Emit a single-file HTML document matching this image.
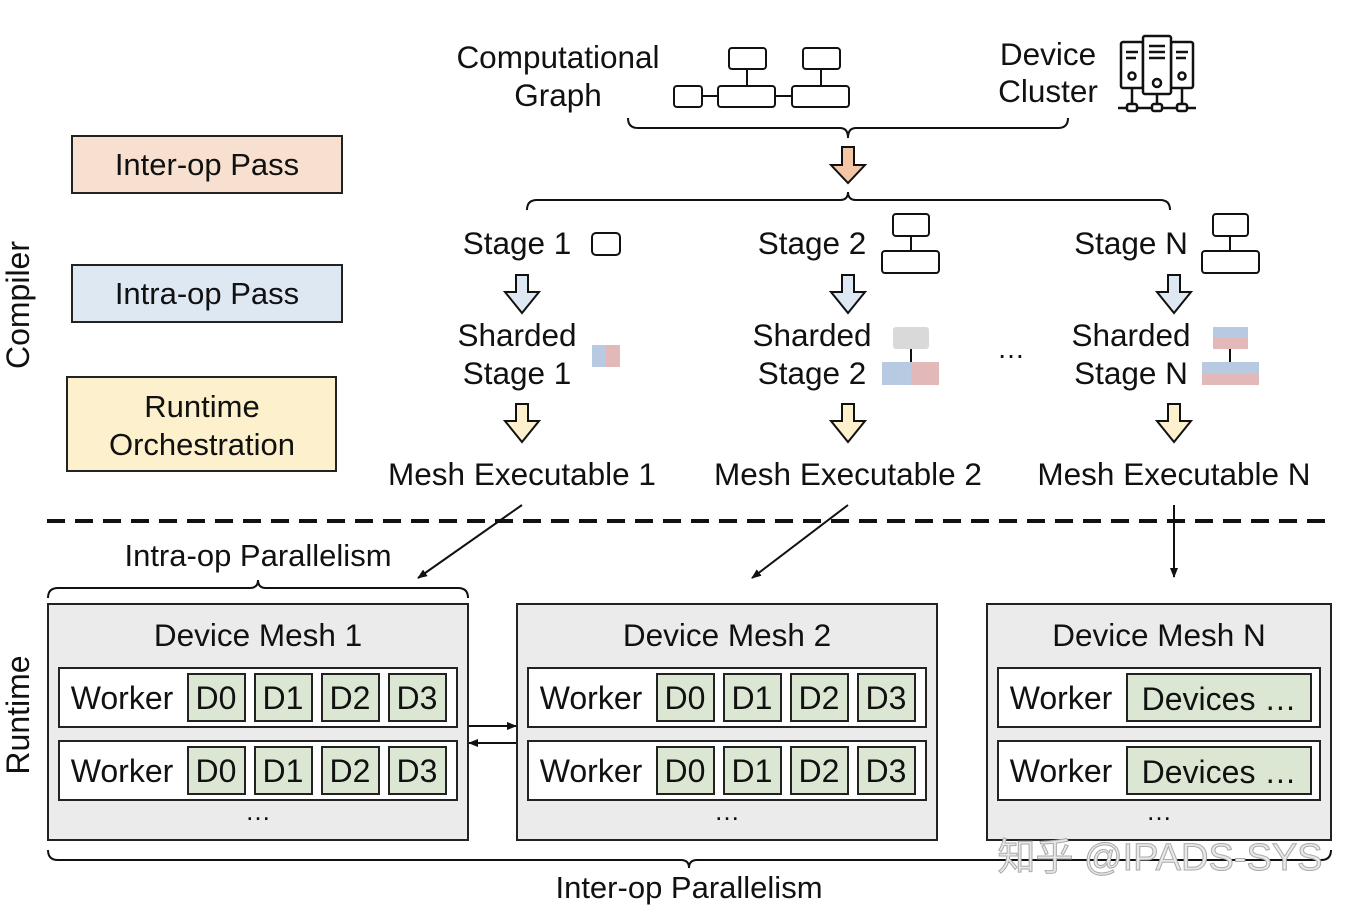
<!DOCTYPE html>
<html><head><meta charset="utf-8"><style>
html,body{margin:0;padding:0;background:#fff;}
svg{display:block;}
text{font-family:"Liberation Sans",Arial,sans-serif;fill:#111;}
</style></head><body>
<svg width="1356" height="912" viewBox="0 0 1356 912" xmlns="http://www.w3.org/2000/svg">
<defs>
<marker id="ah" markerWidth="10" markerHeight="8" refX="9" refY="4" orient="auto" markerUnits="userSpaceOnUse"><path d="M0,0 L10,4 L0,8 z" fill="#111"/></marker>
</defs>
<text transform="translate(29,305) rotate(-90)" font-size="32" text-anchor="middle">Compiler</text>
<text transform="translate(29,715) rotate(-90)" font-size="32" text-anchor="middle">Runtime</text>
<rect x="72" y="136" width="270" height="57" fill="#f8e0d0" stroke="#222" stroke-width="2"/>
<text x="207" y="175" font-size="31" text-anchor="middle">Inter-op Pass</text>
<rect x="72" y="265" width="270" height="57" fill="#dde8f3" stroke="#222" stroke-width="2"/>
<text x="207" y="304" font-size="31" text-anchor="middle">Intra-op Pass</text>
<rect x="67" y="377" width="269" height="94" fill="#fdf0cc" stroke="#222" stroke-width="2"/>
<text x="202" y="417" font-size="31" text-anchor="middle">Runtime</text>
<text x="202" y="455" font-size="31" text-anchor="middle">Orchestration</text>
<g font-size="31.5" text-anchor="middle">
<text x="558" y="68">Computational</text>
<text x="558" y="106">Graph</text>
<text x="1048" y="65">Device</text>
<text x="1048" y="102">Cluster</text>
</g>
<g fill="#fff" stroke="#111" stroke-width="2">
<line x1="702" y1="96" x2="718" y2="96"/><line x1="775" y1="96" x2="792" y2="96"/>
<line x1="747" y1="69" x2="747" y2="86"/><line x1="821" y1="69" x2="821" y2="86"/>
<rect x="674" y="86" width="28" height="21" rx="3"/>
<rect x="718" y="86" width="57" height="21" rx="3"/>
<rect x="792" y="86" width="57" height="21" rx="3"/>
<rect x="729" y="48" width="37" height="21" rx="3"/>
<rect x="803" y="48" width="37" height="21" rx="3"/>
</g>
<g fill="#fff" stroke="#111" stroke-width="2.5">
<rect x="1121" y="42" width="22" height="46" rx="2"/>
<rect x="1171" y="42" width="22" height="46" rx="2"/>
<line x1="1132" y1="88" x2="1132" y2="108"/><line x1="1157" y1="94" x2="1157" y2="108"/><line x1="1182" y1="88" x2="1182" y2="108"/>
<line x1="1118" y1="108" x2="1196" y2="108"/>
<rect x="1143" y="36" width="28" height="58" rx="2"/>
<rect x="1127" y="104" width="10" height="7" rx="2"/><rect x="1152" y="104" width="10" height="7" rx="2"/><rect x="1177" y="104" width="10" height="7" rx="2"/>
<line x1="1126" y1="52" x2="1138" y2="52"/><line x1="1126" y1="58" x2="1136" y2="58"/>
<line x1="1176" y1="52" x2="1188" y2="52"/><line x1="1176" y1="58" x2="1186" y2="58"/>
<line x1="1149" y1="46" x2="1165" y2="46"/><line x1="1149" y1="52" x2="1165" y2="52"/><line x1="1149" y1="58" x2="1165" y2="58"/>
<circle cx="1132" cy="76" r="3.5"/><circle cx="1182" cy="76" r="3.5"/><circle cx="1157" cy="83" r="4"/>
</g>
<g fill="none" stroke="#111" stroke-width="2">
<path d="M628,118 Q628,128 638,128 L840,128 Q848,128 848,138 Q848,128 856,128 L1058,128 Q1068,128 1068,118"/>
<path d="M527,210 Q527,200 537,200 L840,200 Q848,200 848,192 Q848,200 856,200 L1160,200 Q1170,200 1170,210"/>
</g>
<g stroke="#111" stroke-width="2" stroke-linejoin="miter">
<polygon points="842,147 854,147 854,165 865,165 848,183 831,165 842,165" fill="#f3c7a6"/>
<polygon points="516,275 528,275 528,292 539,292 522,313 505,292 516,292" fill="#dde8f3"/>
<polygon points="842,275 854,275 854,292 865,292 848,313 831,292 842,292" fill="#dde8f3"/>
<polygon points="1168,275 1180,275 1180,292 1191,292 1174,313 1157,292 1168,292" fill="#dde8f3"/>
<polygon points="516,404 528,404 528,421 539,421 522,442 505,421 516,421" fill="#fdf0cc"/>
<polygon points="842,404 854,404 854,421 865,421 848,442 831,421 842,421" fill="#fdf0cc"/>
<polygon points="1168,404 1180,404 1180,421 1191,421 1174,442 1157,421 1168,421" fill="#fdf0cc"/>
</g>
<g font-size="31.5" text-anchor="middle">
<text x="517" y="254">Stage 1</text>
<text x="812" y="254">Stage 2</text>
<text x="1131" y="254">Stage N</text>
<text x="517" y="346">Sharded</text>
<text x="517" y="384">Stage 1</text>
<text x="812" y="346">Sharded</text>
<text x="812" y="384">Stage 2</text>
<text x="1131" y="346">Sharded</text>
<text x="1131" y="384">Stage N</text>
<text x="522" y="485">Mesh Executable 1</text>
<text x="848" y="485">Mesh Executable 2</text>
<text x="1174" y="485">Mesh Executable N</text>
</g>
<g fill="#fff" stroke="#111" stroke-width="2">
<rect x="592" y="233" width="28" height="22" rx="4"/>
<line x1="911" y1="236" x2="911" y2="251"/>
<rect x="893" y="214" width="36" height="22" rx="3"/>
<rect x="882" y="251" width="57" height="22" rx="3"/>
<line x1="1230" y1="236" x2="1230" y2="251"/>
<rect x="1213" y="214" width="35" height="22" rx="3"/>
<rect x="1202" y="251" width="57" height="22" rx="3"/>
</g>
<text x="1011" y="358" font-size="28" text-anchor="middle">…</text>
<rect x="592" y="345" width="14" height="22" fill="#b8c9e2"/><rect x="606" y="345" width="14" height="22" fill="#e2b8b8"/>
<line x1="911" y1="347" x2="911" y2="362" stroke="#111" stroke-width="2"/>
<rect x="893" y="327" width="36" height="22" rx="3" fill="#d9d9d9"/>
<rect x="882" y="362" width="29" height="23" fill="#b8c9e2"/><rect x="911" y="362" width="28" height="23" fill="#e2b8b8"/>
<line x1="1230" y1="347" x2="1230" y2="362" stroke="#111" stroke-width="2"/>
<rect x="1213" y="327" width="35" height="11" fill="#b8c9e2"/><rect x="1213" y="338" width="35" height="11" fill="#e2b8b8"/>
<rect x="1202" y="362" width="57" height="12" fill="#b8c9e2"/><rect x="1202" y="374" width="57" height="11" fill="#e2b8b8"/>
<line x1="47" y1="521" x2="1332" y2="521" stroke="#111" stroke-width="4" stroke-dasharray="18,10"/>
<g stroke="#111" stroke-width="2" marker-end="url(#ah)">
<line x1="522" y1="505" x2="418" y2="578"/>
<line x1="848" y1="505" x2="752" y2="578"/>
<line x1="1174" y1="505" x2="1174" y2="577"/>
<line x1="468" y1="726" x2="516" y2="726"/>
<line x1="517" y1="743" x2="469" y2="743"/>
</g>
<text x="258" y="566" font-size="31" text-anchor="middle">Intra-op Parallelism</text>
<path d="M48,598 Q48,588 58,588 L250,588 Q258,588 258,580 Q258,588 266,588 L458,588 Q468,588 468,598" fill="none" stroke="#111" stroke-width="2"/>
<g stroke="#222" stroke-width="2">
<rect x="48" y="604" width="420" height="236" fill="#ebebeb"/>
<rect x="517" y="604" width="420" height="236" fill="#ebebeb"/>
<rect x="987" y="604" width="344" height="236" fill="#ebebeb"/>
<rect x="59" y="668" width="398" height="59" fill="#fff"/>
<rect x="59" y="741" width="398" height="59" fill="#fff"/>
<rect x="528" y="668" width="398" height="59" fill="#fff"/>
<rect x="528" y="741" width="398" height="59" fill="#fff"/>
<rect x="998" y="668" width="322" height="59" fill="#fff"/>
<rect x="998" y="741" width="322" height="59" fill="#fff"/>
<g fill="#dbe6d3">
<rect x="188" y="674" width="57" height="47"/><rect x="255" y="674" width="57" height="47"/><rect x="322" y="674" width="57" height="47"/><rect x="389" y="674" width="57" height="47"/>
<rect x="188" y="747" width="57" height="47"/><rect x="255" y="747" width="57" height="47"/><rect x="322" y="747" width="57" height="47"/><rect x="389" y="747" width="57" height="47"/>
<rect x="657" y="674" width="57" height="47"/><rect x="724" y="674" width="57" height="47"/><rect x="791" y="674" width="57" height="47"/><rect x="858" y="674" width="57" height="47"/>
<rect x="657" y="747" width="57" height="47"/><rect x="724" y="747" width="57" height="47"/><rect x="791" y="747" width="57" height="47"/><rect x="858" y="747" width="57" height="47"/>
<rect x="1127" y="674" width="184" height="47"/><rect x="1127" y="747" width="184" height="47"/>
</g>
</g>
<g font-size="32" text-anchor="middle">
<text x="258" y="646" font-size="31.5">Device Mesh 1</text>
<text x="727" y="646" font-size="31.5">Device Mesh 2</text>
<text x="1159" y="646" font-size="31.5">Device Mesh N</text>
<text x="122" y="709">Worker</text><text x="122" y="782">Worker</text>
<text x="591" y="709">Worker</text><text x="591" y="782">Worker</text>
<text x="1061" y="709">Worker</text><text x="1061" y="782">Worker</text>
<text x="216" y="709">D0</text><text x="283" y="709">D1</text><text x="350" y="709">D2</text><text x="417" y="709">D3</text>
<text x="216" y="782">D0</text><text x="283" y="782">D1</text><text x="350" y="782">D2</text><text x="417" y="782">D3</text>
<text x="685" y="709">D0</text><text x="752" y="709">D1</text><text x="819" y="709">D2</text><text x="886" y="709">D3</text>
<text x="685" y="782">D0</text><text x="752" y="782">D1</text><text x="819" y="782">D2</text><text x="886" y="782">D3</text>
<text x="1219" y="710">Devices …</text><text x="1219" y="783">Devices …</text>
<text x="258" y="820" font-size="26">…</text><text x="727" y="820" font-size="26">…</text><text x="1159" y="820" font-size="26">…</text>
</g>
<path d="M48,850 Q48,860 58,860 L681,860 Q689,860 689,868 Q689,860 697,860 L1321,860 Q1331,860 1331,850" fill="none" stroke="#111" stroke-width="2"/>
<text x="689" y="898" font-size="31" text-anchor="middle">Inter-op Parallelism</text>
<text x="1160" y="870" font-size="38" text-anchor="middle" style="font-family:'Liberation Sans','Noto Sans CJK SC',sans-serif;fill:#e8e8e8;stroke:#aaa;stroke-width:1">知乎 @IPADS-SYS</text>
</svg>
</body></html>
